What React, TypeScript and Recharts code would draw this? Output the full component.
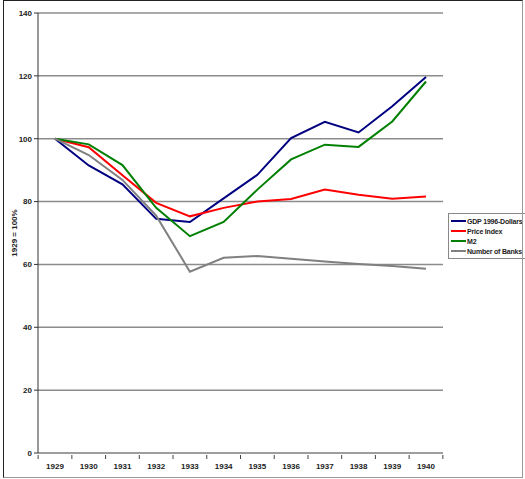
import { CartesianGrid, Line, LineChart, XAxis, YAxis } from 'recharts';

const years = ['1929', '1930', '1931', '1932', '1933', '1934', '1935', '1936', '1937', '1938', '1939', '1940'];
const gdp = [100, 91.5, 85.5, 74.5, 73.5, 81, 88.5, 100.2, 105.4, 102, 110.3, 119.6];
const priceIndex = [100, 97.3, 88.4, 79.6, 75.3, 78, 80, 80.8, 83.8, 82.2, 80.9, 81.6];
const m2 = [100, 98.2, 91.6, 78, 69, 73.5, 83.8, 93.4, 98.1, 97.4, 105.5, 118.2];
const banks = [100, 94.8, 86.9, 75.5, 57.7, 62.1, 62.7, 61.8, 60.9, 60.1, 59.5, 58.6];
const yTicks = [0, 20, 40, 60, 80, 100, 120, 140];

const series = [
    { key: 'gdp', name: 'GDP 1996-Dollars', color: '#000080' },
    { key: 'price', name: 'Price Index', color: '#ff0000' },
    { key: 'm2', name: 'M2', color: '#008000' },
    { key: 'banks', name: 'Number of Banks', color: '#808080' },
];

const data = years.map((year, i) => ({
    year,
    gdp: gdp[i],
    price: priceIndex[i],
    m2: m2[i],
    banks: banks[i],
}));

const font = '"Liberation Sans", Arial, sans-serif';
const tickStyle = { fill: '#222', fontSize: 8, fontWeight: 700, fontFamily: font };
const halfStep = 33.73 / 2;

const XTick = (props: any) => {
    const { x, y, payload, index } = props;
    const top = y - 6;
    return (
        <g>
            <line x1={x - halfStep} x2={x - halfStep} y1={top} y2={top + 4} stroke="#444" />
            {index === years.length - 1 && (
                <line x1={x + halfStep} x2={x + halfStep} y1={top} y2={top + 4} stroke="#444" />
            )}
            <text x={x} y={top + 14} textAnchor="middle" style={tickStyle}>
                {payload.value}
            </text>
        </g>
    );
};

function LegendBox() {
    return (
        <div
            style={{
                position: 'absolute',
                left: 448,
                top: 213,
                border: '1px solid #888',
                borderRight: 'none',
                background: '#fff',
                width: 74,
                padding: '2px 0 2px 2px',
                fontFamily: font,
                fontSize: 7,
                fontWeight: 700,
                color: '#222',
            }}
        >
            {series.map((s) => (
                <div key={s.key} style={{ display: 'flex', alignItems: 'center', height: 10 }}>
                    <span style={{ flex: 'none', width: 15, height: 2, background: s.color, marginRight: 1 }} />
                    <span style={{ whiteSpace: 'nowrap', letterSpacing: -0.2 }}>{s.name}</span>
                </div>
            ))}
        </div>
    );
}

export default function App() {
    return (
        <div style={{ position: 'relative', width: 525, height: 479, overflow: 'hidden', background: '#fff' }}>
            <style>{'body{margin:0}'}</style>
            <div style={{ position: 'absolute', left: 0, top: 0, width: 525, height: 479 }}>
                <LineChart
                    width={525}
                    height={479}
                    data={data}
                    margin={{ top: 13, right: 82, bottom: 6, left: 8 }}
                >
                    <CartesianGrid vertical={false} stroke="#8c8c8c" strokeWidth={1.5} />
                    <XAxis
                        dataKey="year"
                        padding={{ left: 17, right: 17 }}
                        height={20}
                        axisLine={{ stroke: '#9a9a9a', strokeWidth: 1.5 }}
                        tickLine={false}
                        interval={0}
                        tick={<XTick />}
                    />
                    <YAxis
                        domain={[0, 140]}
                        ticks={yTicks}
                        width={30}
                        tickSize={4}
                        tickMargin={2}
                        axisLine={{ stroke: '#333' }}
                        tickLine={{ stroke: '#333' }}
                        tick={tickStyle}
                        label={{
                            value: '1929 = 100%',
                            angle: -90,
                            position: 'insideLeft',
                            offset: 6,
                            style: { ...tickStyle, textAnchor: 'middle' },
                        }}
                    />
                    <YAxis
                        yAxisId="frame"
                        orientation="right"
                        width={0}
                        tick={false}
                        tickLine={false}
                        axisLine={{ stroke: '#aaa' }}
                    />
                    {series.map((s) => (
                        <Line
                            key={s.key}
                            dataKey={s.key}
                            name={s.name}
                            stroke={s.color}
                            strokeWidth={2}
                            dot={false}
                            isAnimationActive={false}
                        />
                    ))}
                </LineChart>
                <LegendBox />
            </div>
            <div
                style={{
                    position: 'absolute',
                    left: 3,
                    top: 0,
                    width: 518,
                    height: 476,
                    borderTop: '1px solid #222',
                    borderLeft: '1px solid #222',
                    borderRight: '1px solid #999',
                    borderBottom: '1px solid #999',
                    pointerEvents: 'none',
                }}
            />
        </div>
    );
}
